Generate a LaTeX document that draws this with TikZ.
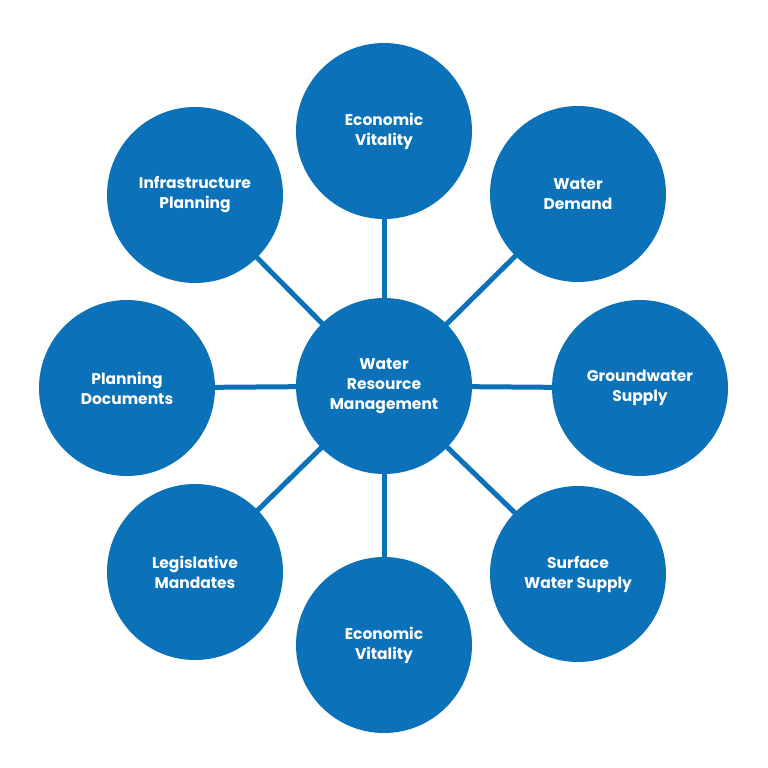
\documentclass[tikz,border=0pt]{standalone}
\usepackage{fontspec}
\setmainfont{Poppins}
\definecolor{wblue}{HTML}{0B72B9}
\begin{document}
\begin{tikzpicture}[x=1pt,y=-1pt,
  bub/.style={circle,fill=wblue,minimum size=176pt,inner sep=0pt,text=white,align=center,font=\fontsize{15.5}{20}\selectfont\bfseries},
  link/.style={draw=wblue,line width=5pt}]
\useasboundingbox[fill=white] (0,0) rectangle (768,768);
\coordinate (cc) at (384,386);
\foreach \x/\y in {384/131,578/194,640/388,578/574,384/645,195/572,127/388,195/195}
  \draw[link] (cc) -- (\x,\y);
\node[bub] (c) at (cc) {Water\\Resource\\Management};
\node[bub] (t) at (384,131) {Economic\\Vitality};
\node[bub] (tr) at (578,194) {Water\\Demand};
\node[bub] (r) at (640,388) {Groundwater\\Supply};
\node[bub] (br) at (578,574) {Surface\\Water Supply};
\node[bub] (b) at (384,645) {Economic\\Vitality};
\node[bub] (bl) at (195,572) {Legislative\\Mandates};
\node[bub] (l) at (127,388) {Planning\\Documents};
\node[bub] (tl) at (195,195) {Infrastructure\\Planning};
\end{tikzpicture}
\end{document}
